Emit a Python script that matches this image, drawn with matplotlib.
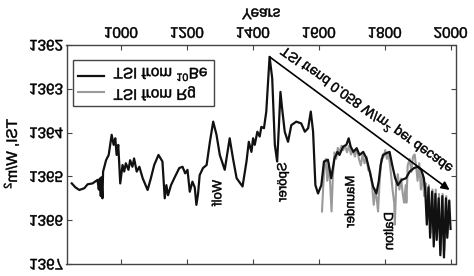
import matplotlib
matplotlib.use("Agg")
import matplotlib.pyplot as plt
from matplotlib.patheffects import AbstractPathEffect
from matplotlib.transforms import Affine2D
import matplotlib.text as mtext

plt.rcParams['font.family'] = ['Liberation Sans', 'DejaVu Sans']
plt.rcParams['mathtext.fontset'] = 'custom'
plt.rcParams['mathtext.rm'] = 'Liberation Sans'
plt.rcParams['mathtext.it'] = 'Liberation Sans:italic'

# ---- data ----
be_years = [851, 862, 874, 889, 899, 914, 925, 929, 933, 936, 939, 941, 944, 946, 955, 963, 972, 978,
            983, 987, 992, 998, 1005, 1010, 1015, 1023, 1028, 1035, 1040, 1048, 1056, 1066, 1081, 1091,
            1101, 1114, 1126, 1133, 1138, 1143, 1152, 1162, 1177, 1187, 1195, 1202, 1209, 1217, 1224,
            1229, 1234, 1239, 1249, 1260, 1270, 1280, 1290, 1300, 1315, 1330, 1340, 1351, 1369, 1381,
            1388, 1396, 1401, 1406, 1414, 1421, 1426, 1434, 1441, 1446, 1451, 1459, 1467, 1474, 1479,
            1484, 1489, 1497, 1507, 1517, 1532, 1547, 1558, 1568, 1576, 1583, 1590, 1598, 1608, 1616,
            1628, 1638, 1648, 1657, 1663, 1674, 1684, 1691, 1697, 1705, 1715, 1724, 1735, 1745, 1755,
            1765, 1775, 1782, 1788, 1795, 1805, 1815, 1823, 1832, 1840, 1852, 1865, 1876, 1889, 1901,
            1911, 1919, 1923, 1928, 1933, 1938, 1944, 1949, 1954, 1958, 1964, 1969, 1975, 1980, 1986,
            1990, 1996, 2000]
be_tsi = [1365.16, 1365.25, 1365.31, 1365.27, 1365.18, 1365.16, 1365.10, 1365.08, 1365.30, 1365.05,
          1365.45, 1365.02, 1365.50, 1364.89, 1364.63, 1364.51, 1364.05, 1364.28, 1364.13, 1364.51,
          1364.28, 1365.16, 1364.74, 1364.89, 1364.70, 1364.85, 1364.63, 1364.78, 1364.59, 1364.89,
          1364.78, 1365.04, 1365.31, 1365.04, 1364.74, 1364.51, 1364.66, 1365.50, 1365.20, 1365.43,
          1365.20, 1365.04, 1364.81, 1364.78, 1364.93, 1364.85, 1365.35, 1365.12, 1365.25, 1365.65,
          1365.40, 1364.97, 1364.81, 1364.74, 1364.21, 1363.75, 1364.05, 1364.51, 1364.85, 1364.13,
          1364.59, 1365.04, 1365.23, 1364.66, 1364.21, 1364.44, 1364.13, 1364.28, 1363.98, 1364.09,
          1363.87, 1363.90, 1363.52, 1362.91, 1362.27, 1362.76, 1364.28, 1364.66, 1363.90, 1363.07,
          1363.45, 1363.98, 1364.21, 1363.83, 1363.75, 1363.79, 1363.98, 1363.90, 1363.52, 1363.98,
          1365.20, 1365.39, 1365.20, 1364.66, 1364.62, 1365.04, 1364.59, 1364.44, 1364.51, 1364.32,
          1364.28, 1364.13, 1364.32, 1364.44, 1364.36, 1364.51, 1364.44, 1364.59, 1364.89, 1365.23,
          1365.39, 1365.12, 1364.74, 1364.51, 1364.47, 1364.44, 1364.74, 1365.04, 1365.20, 1365.08,
          1365.04, 1364.89, 1364.81, 1364.78, 1364.85, 1365.04, 1365.30, 1366.10, 1365.25, 1366.40,
          1365.35, 1366.60, 1365.40, 1366.45, 1365.50, 1366.80, 1365.45, 1366.85, 1365.50, 1366.40,
          1365.55, 1366.20]

rg_years = [1610, 1614, 1618, 1622, 1626, 1631, 1635, 1639, 1643, 1648, 1653, 1658, 1664, 1669, 1674,
            1680, 1686, 1692, 1698, 1704, 1710, 1716, 1722, 1728, 1733, 1739, 1745, 1750, 1756, 1762,
            1767, 1772, 1776, 1780, 1785, 1790, 1797, 1802, 1807, 1812, 1818, 1824, 1829, 1831, 1835,
            1840, 1845, 1850, 1855, 1859, 1864, 1866, 1870, 1876, 1881, 1886, 1891, 1896, 1900, 1905,
            1910, 1915, 1920, 1924, 1929, 1934, 1939, 1945, 1950, 1955, 1959, 1965, 1970, 1976, 1981,
            1987, 1991, 1996]
rg_tsi = [1365.80, 1365.20, 1364.70, 1364.60, 1365.10, 1364.70, 1365.20, 1365.80, 1365.00, 1364.45,
          1364.60, 1364.35, 1364.45, 1364.30, 1364.40, 1364.30, 1364.45, 1364.30, 1364.50, 1364.40,
          1364.55, 1364.35, 1364.60, 1364.75, 1364.50, 1364.70, 1364.55, 1364.85, 1364.90, 1365.20,
          1365.65, 1365.30, 1365.50, 1365.80, 1365.10, 1364.60, 1364.55, 1364.40, 1364.60, 1364.45,
          1364.85, 1365.30, 1365.60, 1366.10, 1365.20, 1364.95, 1365.30, 1365.05, 1365.40, 1365.60,
          1365.20, 1365.60, 1364.75, 1364.60, 1364.90, 1364.55, 1364.50, 1364.80, 1365.10, 1364.70,
          1365.30, 1364.95, 1365.45, 1365.15, 1366.00, 1365.20, 1366.30, 1365.30, 1366.50, 1365.30,
          1366.40, 1365.40, 1366.70, 1365.40, 1366.70, 1365.45, 1366.30, 1365.60]

trend_start = (1451, 1362.27)
trend_end = (1997, 1365.31)
trend_label = 'TSI trend 0.058 W/m$^2$ per decade'

minima_names = ['Wolf', 'Spörer', 'Maunder', 'Dalton']
minima_x = [1285, 1491, 1688, 1806]
minima_y = [1365.38, 1365.13, 1365.58, 1366.25]

x_ticks = [1000, 1200, 1400, 1600, 1800, 2000]
y_ticks = [1362, 1363, 1364, 1365, 1366, 1367]


class VFlip(AbstractPathEffect):
    """Mirror the glyphs top-to-bottom about their own centre (the reference is vertically mirrored)."""
    def draw_path(self, renderer, gc, tpath, affine, rgbFace=None):
        ext = tpath.get_extents()
        flip = Affine2D().scale(1, -1).translate(0, ext.y0 + ext.y1)
        gc0 = renderer.new_gc()
        gc0.copy_properties(gc)
        gc0.set_linewidth(0.35)
        renderer.draw_path(gc0, tpath, flip + affine, rgbFace)
        gc0.restore()


W, H = 474, 276
fig = plt.figure(figsize=(W / 100, H / 100), dpi=100)
L, R, T, B = 66.5, 455.5, 45, 264
ax = fig.add_axes([L / W, 1 - B / H, (R - L) / W, (B - T) / H])

g, = ax.plot(rg_years, rg_tsi, color='#9a9a9a', lw=1.5, label='TSI from Rg')
k, = ax.plot(be_years, be_tsi, color='#111111', lw=1.6, label='TSI from $^{10}$Be')

ax.set_xlim(835, 2015)
ax.set_ylim(1367, 1362)
ax.set_xticks(x_ticks)
ax.set_yticks(y_ticks)
ax.xaxis.set_label_position('top')
ax.tick_params(direction='in', top=True, bottom=True, left=True, right=True,
               labeltop=True, labelbottom=False, labelsize=11, length=3.5, width=0.8,
               color='#444444')
ax.tick_params(axis='x', pad=3)
ax.tick_params(axis='y', pad=2.5)
for s in ax.spines.values():
    s.set_color('#444444')
    s.set_linewidth(1.0)

ax.set_xlabel('Years', fontsize=11)
ax.xaxis.set_label_coords(0.5, 1 + (T - 15) / (B - T))
ax.xaxis.label.set_va('center')
ax.set_ylabel('TSI, W/m$^2$', fontsize=11, rotation=-90, va='center', ha='center')
ax.yaxis.set_label_coords(-(L - 11) / (R - L), 0.5)

ax.annotate('', xy=trend_end, xytext=trend_start,
            arrowprops=dict(arrowstyle='-|>', color='black', lw=1.2, mutation_scale=12,
                            shrinkA=0, shrinkB=0))
ax.text(1748, 1363.48, trend_label, rotation=-35.5, rotation_mode='anchor',
        ha='center', va='center', fontsize=10)

for name, x, y in zip(minima_names, minima_x, minima_y):
    ax.text(x, y, name, rotation=-90, rotation_mode='anchor', ha='center', va='center', fontsize=9.5)

leg = ax.legend(handles=[k, g], loc='upper left',
                bbox_to_anchor=((73 - L) / (R - L), 1 - (60 - T) / (B - T)),
                borderaxespad=0, fontsize=11, frameon=True, fancybox=False,
                edgecolor='#444444', framealpha=1, handlelength=1.7, handletextpad=0.6,
                labelspacing=0.15, borderpad=0.35)
leg.get_frame().set_linewidth(1.0)

fig.canvas.draw()
for t in fig.findobj(mtext.Text):
    if t.get_text():
        t.set_path_effects([VFlip()])

fig.savefig('out.png', dpi=100)
